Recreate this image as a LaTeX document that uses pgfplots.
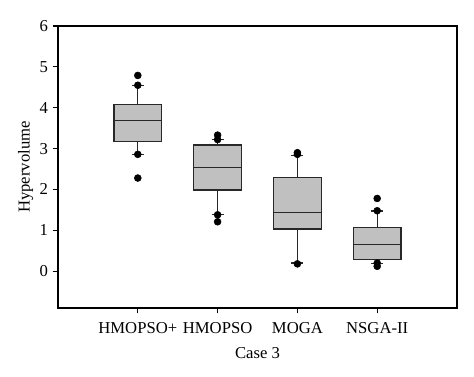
\documentclass[border=0pt]{standalone}
\usepackage{fontspec}
\setmainfont{Liberation Serif}
\usepackage{pgfplots}
\pgfplotsset{compat=1.18}
\usepgfplotslibrary{statistics}
\definecolor{boxfill}{RGB}{192,192,192}
\definecolor{boxline}{RGB}{40,40,40}
\begin{document}
\begin{tikzpicture}
\begin{axis}[
  scale only axis,
  width=299.25pt, height=211.5pt,
  xmin=0, xmax=5, ymin=-0.9, ymax=6,
  xtick={1,2,3,4},
  xticklabels={HMOPSO+,HMOPSO,MOGA,NSGA-II},
  ytick={0,1,2,3,4,5,6},
  tick align=outside,
  tick pos=left,
  major tick length=4pt,
  /pgf/number format/assume math mode=true,
  tick label style={font=\fontsize{12.5}{14}\selectfont, black},
  label style={font=\fontsize{12.5}{14}\selectfont},
  xticklabel style={yshift=-3pt},
  xlabel={Case 3},
  ylabel={Hypervolume},
  xlabel style={yshift=-4pt},
  ylabel style={yshift=-2pt},
  axis line style={black, line width=0.8pt},
  every tick/.style={black, line width=0.8pt},
  boxplot/draw direction=y,
  boxplot/box extend=0.6,
  boxplot/whisker extend=0.15,
  boxplot/every box/.style={draw=boxline, fill=boxfill, line width=1pt},
  boxplot/every whisker/.style={draw=boxline, line width=1pt},
  boxplot/every median/.style={draw=boxline, line width=1pt},
]
\addplot[boxplot prepared={draw position=1, median=3.69, upper quartile=4.08, lower quartile=3.175, upper whisker=4.55, lower whisker=2.86}] coordinates {};
\addplot[boxplot prepared={draw position=2, median=2.54, upper quartile=3.09, lower quartile=1.99, upper whisker=3.23, lower whisker=1.39}] coordinates {};
\addplot[boxplot prepared={draw position=3, median=1.43, upper quartile=2.30, lower quartile=1.03, upper whisker=2.83, lower whisker=0.20}] coordinates {};
\addplot[boxplot prepared={draw position=4, median=0.66, upper quartile=1.07, lower quartile=0.29, upper whisker=1.47, lower whisker=0.195}] coordinates {};
\addplot[only marks, mark=*, mark size=2.6pt, black] coordinates {
  (1,4.79) (1,4.55) (1,2.86) (1,2.28)
  (2,3.33) (2,3.22) (2,1.38) (2,1.21)
  (3,2.90) (3,2.86) (3,0.18)
  (4,1.78) (4,1.48) (4,0.20) (4,0.12)
};
\end{axis}
\path ([shift={(-43.5pt,-51.75pt)}]current axis.south west) rectangle ([shift={(12.75pt,19.5pt)}]current axis.north east);
\end{tikzpicture}
\end{document}
